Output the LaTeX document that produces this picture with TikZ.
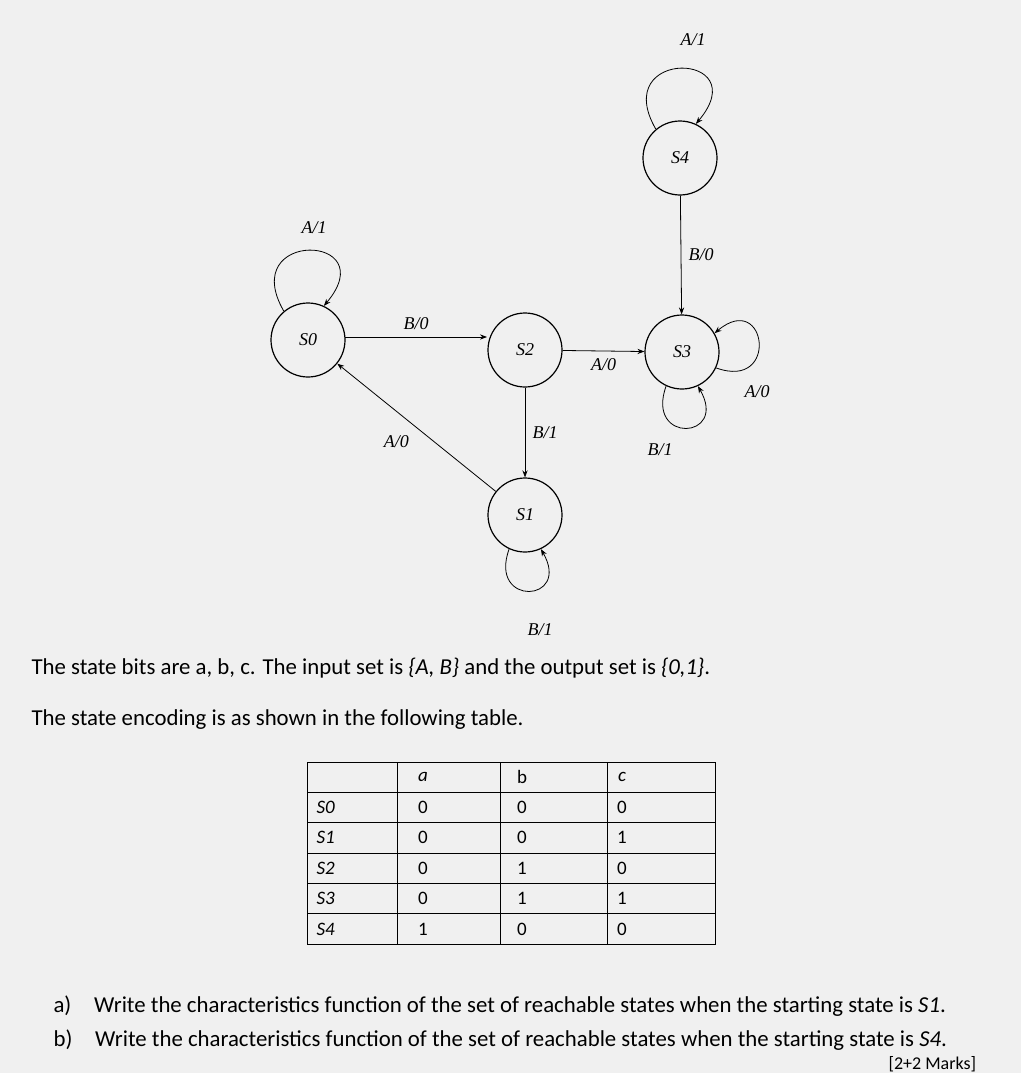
\documentclass[tikz,border=0pt]{standalone}
\usepackage{fontspec}
\setmainfont{Carlito}
\newfontfamily\dfont{Liberation Serif}
\usetikzlibrary{arrows.meta}
\begin{document}
\begin{tikzpicture}[x=1pt,y=-1pt,
 st/.style={circle,draw,line width=1.2pt,minimum size=74pt,font=\dfont\itshape\fontsize{18}{18}\selectfont},
 lb/.style={font=\dfont\itshape\fontsize{18}{18}\selectfont},
 ar/.style={-{Stealth[length=7pt]},line width=0.8pt},
 tx/.style={anchor=west,font=\fontsize{22.8}{24}\selectfont},
 cell/.style={font=\fontsize{19}{19}\selectfont}]
\fill[gray!12] (0,0) rectangle (1021,1073);
\useasboundingbox (0,0) rectangle (1021,1073);
\node[st] (s0) at (308,340) {S0};
\node[st] (s2) at (525,350) {S2};
\node[st] (s3) at (682,352) {S3};
\node[st] (s4) at (680,158) {S4};
\node[st] (s1) at (525,515) {S1};
\draw[ar] (s0.130) to[out=120,in=50,looseness=6] (s0.65);
\draw[ar] (s4.130) to[out=120,in=50,looseness=6] (s4.65);
\draw[ar] (s3.-25) to[out=-20,in=40,looseness=5] (s3.30);
\draw[ar] (s3.-115) to[out=-110,in=-60,looseness=5] (s3.-65);
\draw[ar] (s1.-115) to[out=-110,in=-60,looseness=5] (s1.-65);
\draw[ar] (345,337) -- node[lb,above=4pt]{B/0} (487,337);
\draw[ar] (s2) -- node[lb,below=4pt]{A/0} (s3);
\draw[ar] (s2) -- node[lb,right=4pt]{B/1} (s1);
\draw[ar] (s1) -- node[lb,below left=4pt]{A/0} (s0);
\draw[ar] (s4) -- node[lb,right=4pt]{B/0} (s3);
\node[lb] (l1) at (314,228) {A/1};
\node[lb] (l2) at (693,40) {A/1};
\node[lb] (l3) at (757,392) {A/0};
\node[lb] (l4) at (660,450) {B/1};
\node[lb] (l5) at (540,630) {B/1};
\node[tx] (t1) at (28,668) {The state bits are a, b, c. The input set is \textit{\{A, B\}} and the output set is \textit{\{0,1\}}.};
\node[tx] (t2) at (28,720) {The state encoding is as shown in the following table.};
\draw[line width=1pt] (307,762) rectangle (715,944);
\foreach \y in {792,822,853,883,913} \draw[line width=1pt] (307,\y) -- (715,\y);
\foreach \x in {397,500,607} \draw[line width=1pt] (\x,762) -- (\x,944);
\node[cell] at (423,777) {\itshape a};
\node[cell] at (522,777) {b};
\node[cell] at (622,777) {\itshape c};
\foreach \n/\a/\b/\c [count=\i] in {S0/0/0/0,S1/0/0/1,S2/0/1/0,S3/0/1/1,S4/1/0/0}{
 \node[cell,anchor=west] at (313,777+30.4*\i) {\itshape\n};
 \node[cell] at (423,777+30.4*\i) {\a};
 \node[cell] at (522,777+30.4*\i) {\b};
 \node[cell] at (622,777+30.4*\i) {\c};
}
\node[tx] (q1) at (50,1006) {a)\quad Write the characteristics function of the set of reachable states when the starting state is \textit{S1}.};
\node[tx] (q2) at (50,1040) {b)\quad Write the characteristics function of the set of reachable states when the starting state is \textit{S4}.};
\node[tx,font=\fontsize{18}{18}\selectfont] (m) at (885,1064) {[2+2 Marks]};
\end{tikzpicture}
\end{document}
